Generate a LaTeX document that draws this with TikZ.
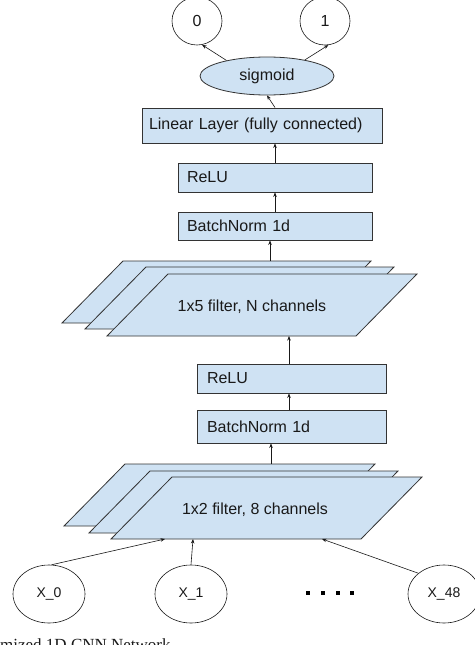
\documentclass[tikz,border=0pt]{standalone}
\usepackage{fontspec}
\setmainfont{Liberation Sans}
\newfontfamily\capfont{Liberation Serif}
\usetikzlibrary{shapes.geometric,arrows.meta}
\definecolor{lblue}{HTML}{CFE2F3}
\definecolor{edge}{HTML}{333333}
\newcommand{\layerpg}[3]{% x, y, width
  \filldraw[fill=lblue, draw=edge, line width=0.8pt, line join=miter]
    (#1,#2) -- ++(#3,0) -- ++(-61,62) -- ++(-#3,0) -- cycle;}
\begin{document}
\begin{tikzpicture}[x=1pt,y=-1pt,
  every node/.style={font=\fontsize{16}{18}\selectfont, text=black!90},
  arr/.style={-{Stealth[length=4.5pt,width=3.5pt]}, line width=0.6pt, draw=black!90},
  boxn/.style={draw=edge, line width=0.9pt, fill=lblue, align=left, inner ysep=0pt},
  outc/.style={ellipse, draw=black!90, line width=0.6pt, minimum width=50pt, minimum height=48pt, inner sep=0pt},
  inc/.style={ellipse, draw=black!90, line width=0.6pt, minimum width=72pt, minimum height=58pt, inner sep=0pt, font=\fontsize{14}{16}\selectfont},
  dotn/.style={rectangle, fill=black, minimum size=3.5pt, inner sep=0pt}]
\useasboundingbox (0,0) rectangle (474,645);
\fill[white] (0,0) rectangle (474,645);

% output nodes
\node[outc] (c0) at (197,21) {0};
\node[outc] (c1) at (325,21) {1};
\node[ellipse, draw=edge, line width=0.8pt, fill=lblue, minimum width=134pt, minimum height=38pt, inner sep=0pt] (sig) at (267,76) {sigmoid};

% boxes
\node[boxn, inner xsep=7pt, text width=226pt, minimum width=240pt, minimum height=35pt] (lin) at (262,125.5) {Linear Layer (fully connected)};
\node[boxn, inner xsep=9pt, text width=176pt, minimum width=194pt, minimum height=29pt] (relu1) at (275,177.5) {ReLU};
\node[boxn, inner xsep=9pt, text width=176pt, minimum width=194pt, minimum height=28pt] (bn1) at (275,226) {BatchNorm 1d};
\node[boxn, inner xsep=10pt, text width=169pt, minimum width=189pt, minimum height=29pt] (relu2) at (291.5,378.5) {ReLU};
\node[boxn, inner xsep=10pt, text width=169pt, minimum width=189pt, minimum height=33pt] (bn2) at (291.5,426.5) {BatchNorm 1d};

% conv stack 1
\layerpg{123}{261}{248}
\layerpg{146}{267}{248}
\layerpg{168}{274}{249}
\node (t1) at (252,307) {1x5 filter, N channels};
\coordinate (s1top) at (270,261);
\coordinate (s1bot) at (289,336);

% conv stack 2
\layerpg{125}{464}{250}
\layerpg{150}{471}{248}
\layerpg{172}{477}{250}
\node (t2) at (255,510) {1x2 filter, 8 channels};
\coordinate (s2top) at (271,464);
\coordinate (a0) at (165,539);
\coordinate (a1) at (193,539);
\coordinate (a48) at (322,539);

% inputs
\node[inc] (x0) at (49,594) {X\_0};
\node[inc] (x1) at (191,594) {X\_1};
\node[inc] (x48) at (444,594) {X\_48};
\node[dotn] (d1) at (308,593) {};
\node[dotn] (d2) at (323,593) {};
\node[dotn] (d3) at (338,593) {};
\node[dotn] (d4) at (352,593) {};

% connectors
\draw[arr] (sig.159) -- (c0.-78);
\draw[arr] (sig.23) -- (c1.-82);
\draw[arr] ([xshift=13pt]lin.north) -- (sig.south);
\draw[arr] (relu1.north) -- (relu1.north |- lin.south);
\draw[arr] (bn1.north) -- (relu1.south);
\draw[arr] (s1top) -- (s1top |- bn1.south);
\draw[arr] (s1bot |- relu2.north) -- (s1bot);
\draw[arr] (s1bot |- bn2.north) -- (s1bot |- relu2.south);
\draw[arr] (s2top) -- (s2top |- bn2.south);
\draw[arr] (x0.85) -- (a0);
\draw[arr] (x1.north) -- (a1);
\draw[arr] (x48.141) -- (a48);

% caption (clipped by page edge)
\node[anchor=base west, inner sep=0pt, font=\capfont\fontsize{17}{19}\selectfont] (cap) at (0,650) {mized 1D CNN Network};
\end{tikzpicture}
\end{document}
